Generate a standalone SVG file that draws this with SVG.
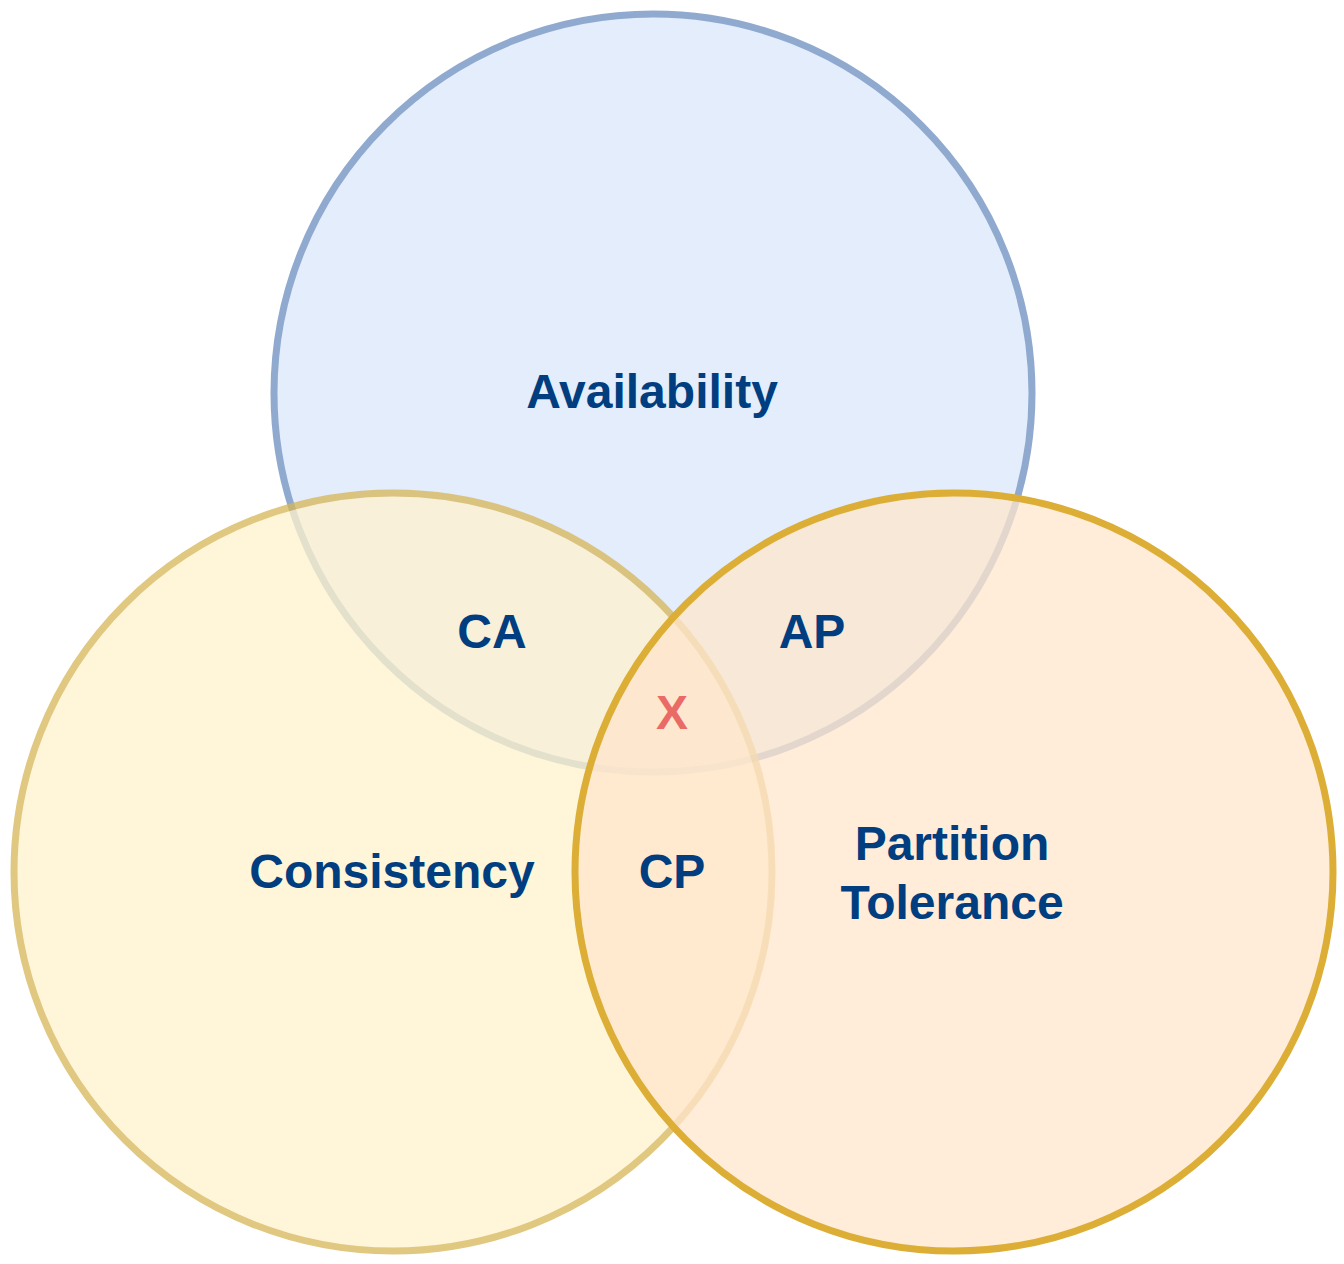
<svg xmlns="http://www.w3.org/2000/svg" width="1344" height="1264" viewBox="0 0 1344 1264">
<style>
.lbl{font-family:"Liberation Sans",Arial,Helvetica,sans-serif;font-weight:bold;font-size:48px;fill:#003e80;text-anchor:middle}
.x{fill:#ea6b66}
</style>
<rect width="1344" height="1264" fill="#ffffff"/>
<g id="availability" opacity="0.75">
<circle cx="653" cy="393" r="379" fill="#dae8fc" stroke="#6c8ebf" stroke-width="7"/>
</g>
<g id="consistency" opacity="0.75">
<circle cx="393" cy="872" r="379" fill="#fff2cc" stroke="#d6b656" stroke-width="7"/>
</g>
<g id="partition">
<circle cx="954" cy="872" r="379" fill="#ffe6cc" fill-opacity="0.75" stroke="#dcae36" stroke-width="7"/>
</g>
<g id="labels">
<text class="lbl" x="652" y="408">Availability</text>
<text class="lbl" x="492" y="648">CA</text>
<text class="lbl" x="812" y="648">AP</text>
<text class="lbl x" x="672" y="729">X</text>
<text class="lbl" x="392" y="888">Consistency</text>
<text class="lbl" x="672" y="888">CP</text>
<text class="lbl" x="952" y="860">Partition</text>
<text class="lbl" x="952" y="919">Tolerance</text>
</g>
</svg>
